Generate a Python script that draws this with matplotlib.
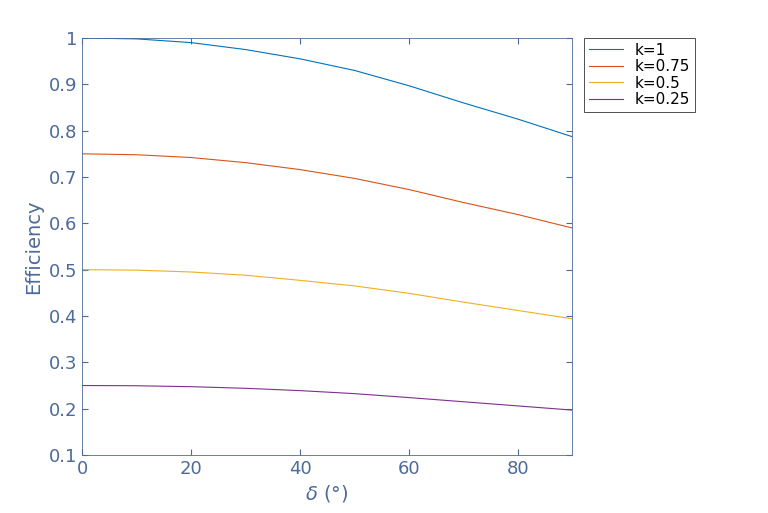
import matplotlib
matplotlib.use("Agg")
import matplotlib.pyplot as plt

delta = [0, 10, 20, 30, 40, 50, 60, 70, 80, 90]
k1 = [1.0, 0.998, 0.99, 0.975, 0.955, 0.93, 0.897, 0.86, 0.825, 0.787]
k075 = [0.75, 0.748, 0.742, 0.731, 0.716, 0.697, 0.673, 0.645, 0.619, 0.59]
k05 = [0.5, 0.499, 0.495, 0.488, 0.477, 0.465, 0.449, 0.43, 0.412, 0.394]
k025 = [0.25, 0.2495, 0.2475, 0.244, 0.239, 0.2325, 0.224, 0.215, 0.206, 0.197]
labels = ["k=1", "k=0.75", "k=0.5", "k=0.25"]
colors = ["#0072BD", "#D95319", "#EDB120", "#7E2F8E"]
axcol = "#4c6a9a"

fig = plt.figure(figsize=(7.68, 5.13), dpi=100)
ax = fig.add_axes([0.107, 0.113, 0.638, 0.813])
for y, lab, c in zip([k1, k075, k05, k025], labels, colors):
    ax.plot(delta, y, color=c, lw=0.8, label=lab)
ax.set_xlim(0, 90)
ax.set_ylim(0.1, 1)
ax.set_xticks([0, 20, 40, 60, 80])
ax.set_yticks([0.1, 0.2, 0.3, 0.4, 0.5, 0.6, 0.7, 0.8, 0.9, 1])
ax.set_yticklabels(["0.1", "0.2", "0.3", "0.4", "0.5", "0.6", "0.7", "0.8", "0.9", "1"])
ax.tick_params(direction="in", top=True, right=True, colors=axcol, labelsize=13, length=4)
for s in ax.spines.values():
    s.set_color(axcol)
    s.set_linewidth(0.6)
ax.set_xlabel(r"$\delta$ (°)", color=axcol, fontsize=14)
ax.set_ylabel("Efficiency", color=axcol, fontsize=14)
leg = ax.legend(loc="upper left", bbox_to_anchor=(1.025, 1.0), fontsize=11, frameon=True,
                fancybox=False, edgecolor="black", borderaxespad=0, handlelength=2.2,
                labelspacing=0.1, borderpad=0.3)
leg.get_frame().set_linewidth(0.6)
fig.savefig("out.png", dpi=100)
